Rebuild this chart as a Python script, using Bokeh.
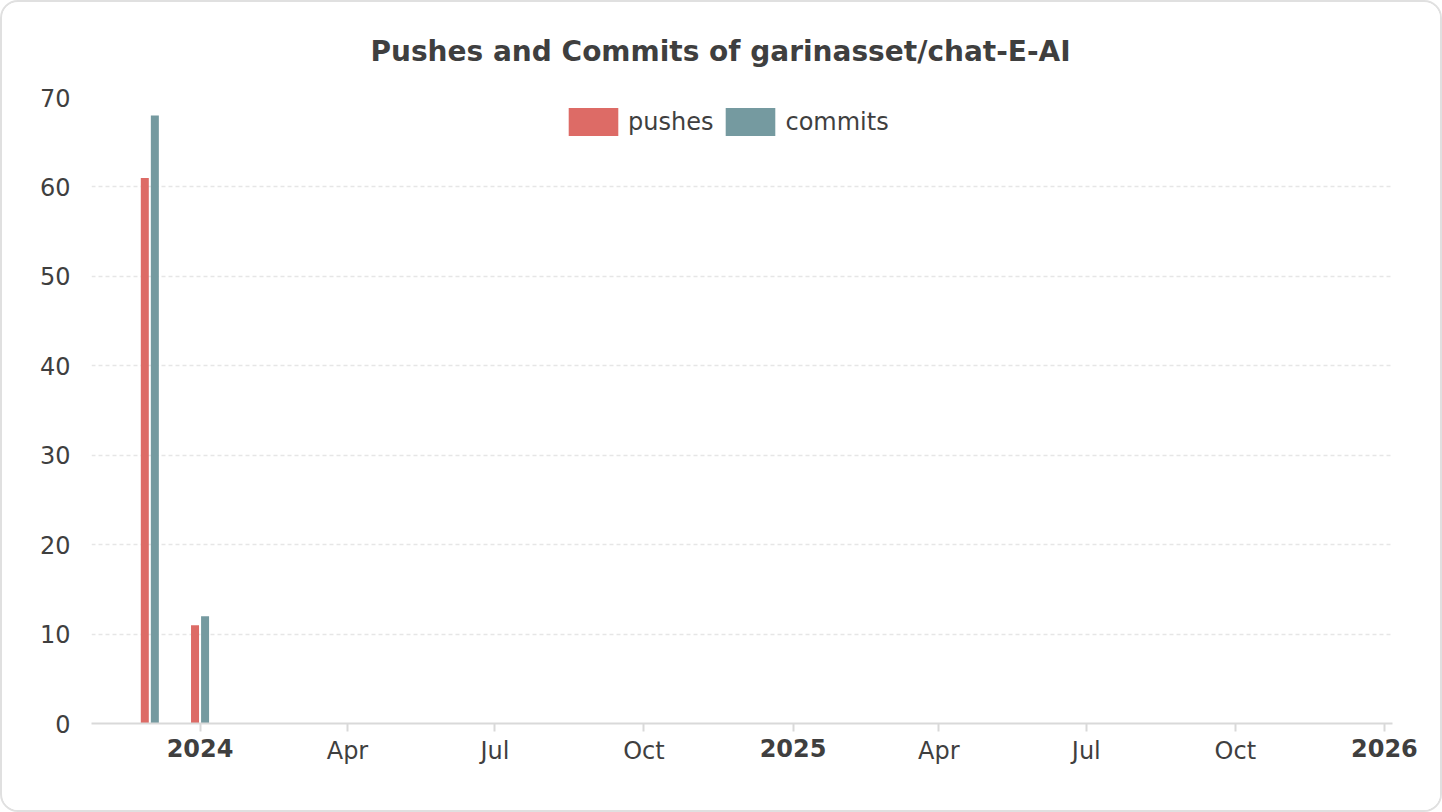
import pandas as pd
from bokeh.plotting import figure
from bokeh.models import (ColumnDataSource, DatetimeAxis, FixedTicker, Legend, LegendItem,
                          Range1d)
from bokeh.transform import dodge
from bokeh.embed import file_html
from bokeh.resources import INLINE

# monthly activity
months = ["2023-12", "2024-01", "2024-02", "2024-03", "2024-04", "2024-05", "2024-06",
          "2024-07", "2024-08", "2024-09", "2024-10", "2024-11", "2024-12", "2025-01",
          "2025-02", "2025-03", "2025-04", "2025-05", "2025-06", "2025-07", "2025-08",
          "2025-09", "2025-10", "2025-11", "2025-12"]
pushes = [61, 11, 0, 0, 0, 0, 0, 0, 0, 0, 0, 0, 0, 0, 0, 0, 0, 0, 0, 0, 0, 0, 0, 0, 0]
commits = [68, 12, 0, 0, 0, 0, 0, 0, 0, 0, 0, 0, 0, 0, 0, 0, 0, 0, 0, 0, 0, 0, 0, 0, 0]

tick_dates = ["2024-01-01", "2024-04-01", "2024-07-01", "2024-10-01", "2025-01-01",
              "2025-04-01", "2025-07-01", "2025-10-01", "2026-01-01"]
tick_labels = ["2024", "Apr", "Jul", "Oct", "2025", "Apr", "Jul", "Oct", "2026"]
y_ticks = [0, 10, 20, 30, 40, 50, 60, 70]

title = "Pushes and Commits of garinasset/chat-E-AI"
RED = "#dd6b66"
TEAL = "#759aa0"
TEXT = "#3f3f3f"
FONT = "DejaVu Sans"

DAY = 24 * 3600 * 1000
source = ColumnDataSource(dict(month=pd.to_datetime(months), pushes=pushes, commits=commits))

p = figure(width=1442, height=812, x_axis_type="datetime",
           x_range=Range1d(pd.Timestamp("2023-10-26"), pd.Timestamp("2026-01-06")),
           y_range=Range1d(0, 70),
           output_backend="svg", toolbar_location=None,
           min_border_left=89, min_border_right=52, min_border_top=94, min_border_bottom=91)
p.styles = {"position": "absolute", "left": "0px", "top": "0px",
            "border": "2px solid #e0e0e0", "border-radius": "18px", "overflow": "hidden"}
p.outline_line_color = None
p.background_fill_color = "white"
p.border_fill_color = "white"

p.title.text = title
p.title.align = "left"
p.title.offset = 279
p.title.standoff = 60
p.title.text_font = FONT
p.title.text_font_size = "28px"
p.title.text_font_style = "bold"
p.title.text_color = TEXT

r_push = p.vbar(x=dodge("month", -3.1 * DAY, range=p.x_range), top="pushes", width=4.94 * DAY,
                source=source, fill_color=RED, line_color=None)
r_commit = p.vbar(x=dodge("month", 3.1 * DAY, range=p.x_range), top="commits", width=4.94 * DAY,
                  source=source, fill_color=TEAL, line_color=None)

tick_ms = [pd.Timestamp(d).value // 10**6 for d in tick_dates]

# main x axis: month labels
xa = p.xaxis[0]
xa.ticker = FixedTicker(ticks=tick_ms)
xa.major_label_overrides = {ms: ("" if t.isdigit() else t) for ms, t in zip(tick_ms, tick_labels)}
xa.axis_line_color = "#d9d9d9"
xa.axis_line_width = 2
xa.major_tick_line_color = "#d9d9d9"
xa.major_tick_line_width = 2
xa.major_tick_out = 8
xa.major_tick_in = 0
xa.minor_tick_line_color = None
xa.major_label_standoff = 5
xa.major_label_text_font = FONT
xa.major_label_text_font_size = "24px"
xa.major_label_text_color = TEXT

# second x axis on the same row: year labels in bold
year_ms = [ms for ms, t in zip(tick_ms, tick_labels) if t.isdigit()]
ya = DatetimeAxis(ticker=FixedTicker(ticks=year_ms),
                  major_label_overrides={ms: t for ms, t in zip(tick_ms, tick_labels) if t.isdigit()},
                  axis_line_color=None, major_tick_line_color=None, minor_tick_line_color=None,
                  major_tick_out=0, major_tick_in=0, major_label_standoff=-29,
                  major_label_text_font=FONT, major_label_text_font_size="24px",
                  major_label_text_font_style="bold", major_label_text_color=TEXT)
p.add_layout(ya, "below")

p.yaxis.ticker = FixedTicker(ticks=y_ticks)
p.yaxis.axis_line_color = None
p.yaxis.major_tick_line_color = None
p.yaxis.minor_tick_line_color = None
p.yaxis.major_label_standoff = 15
p.yaxis.major_label_text_font = FONT
p.yaxis.major_label_text_font_size = "24px"
p.yaxis.major_label_text_color = TEXT

p.xgrid.grid_line_color = None
p.ygrid.grid_line_color = "#e6e6e6"
p.ygrid.grid_line_width = 1.5
p.ygrid.grid_line_dash = "4 3"

legend = Legend(items=[LegendItem(label="pushes", renderers=[r_push]),
                       LegendItem(label="commits", renderers=[r_commit])],
                location=(471, 584), orientation="horizontal",
                glyph_width=62, glyph_height=35, label_standoff=4, spacing=6,
                padding=0, margin=0, border_line_color=None, background_fill_alpha=0,
                label_text_font=FONT, label_text_font_size="24px", label_text_color=TEXT)
p.add_layout(legend)

open("out.html", "w").write(file_html(p, INLINE))
